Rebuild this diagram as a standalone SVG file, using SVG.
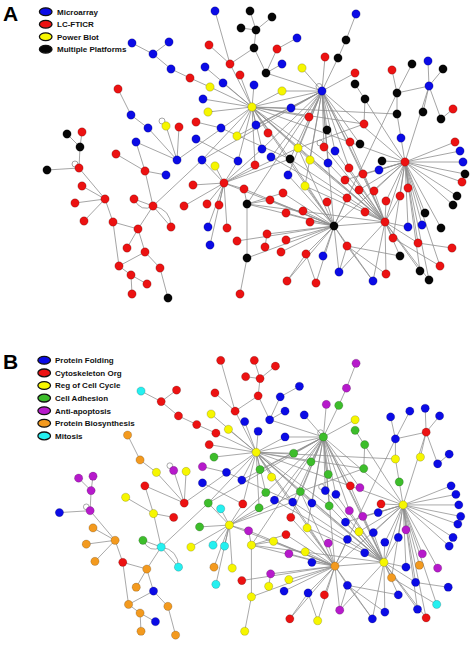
<svg xmlns="http://www.w3.org/2000/svg" xmlns:xlink="http://www.w3.org/1999/xlink" width="474" height="645" viewBox="0 0 474 645">
<style>
.b{fill:#0b0be6}.r{fill:#ec1212}.y{fill:#f6f600}.k{fill:#060606}.g{fill:#3dbd2b}.m{fill:#b61acb}.o{fill:#f39a1f}.c{fill:#25f0f0}
.nodes circle{stroke:#000;stroke-opacity:.3;stroke-width:.6}
.lg ellipse{stroke:#111;stroke-width:1.3}
.lg text{font-family:"Liberation Sans",Arial,sans-serif;font-weight:bold;font-size:8px;fill:#111}
.pl{font-family:"Liberation Sans",Arial,sans-serif;font-weight:bold;font-size:21px;fill:#000}
</style>
<rect width="474" height="645" fill="#fff"/>
<g id="connectors-A">
<g id="net" stroke="#8e8e8e" stroke-width="0.8" fill="none">
<path d="M132 43L153 54"/><path d="M169 42L153 54"/><path d="M153 54L171 69"/><path d="M171 69L190 78"/><path d="M190 78L210 87"/><path d="M210 87L252 107"/>
<path d="M230 64L252 107"/><path d="M205 67L252 107"/><path d="M223 83L252 107"/><path d="M240 75L252 107"/><path d="M203 99L252 107"/><path d="M208 112L252 107"/><path d="M254 85L252 107"/><path d="M256 125L252 107"/><path d="M291 108L252 107"/><path d="M282 91L252 107"/><path d="M237 136L252 107"/><path d="M252 107L322 91"/><path d="M252 107L309 117"/><path d="M252 107L405 162"/><path d="M252 107L397 114"/><path d="M252 107L268 133"/><path d="M252 107L262 149"/><path d="M252 107L290 159"/><path d="M252 107L298 148"/><path d="M252 107L334 226"/><path d="M252 107L385 222"/><path d="M252 107L238 161"/><path d="M252 107L202 160"/><path d="M252 107L255 165"/><path d="M252 107L328 163"/><path d="M252 107L310 160"/><path d="M252 107L364 124"/><path d="M252 107L177 160"/>
<path d="M215 11L230 64"/><path d="M209 45L230 64"/><path d="M230 64L254 48"/>
<path d="M250 11L256 30"/><path d="M272 17L256 30"/><path d="M241 28L256 30"/><path d="M256 30L254 48"/><path d="M254 48L266 73"/><path d="M277 49L297 38"/><path d="M277 49L266 73"/><path d="M282 64L266 73"/><path d="M266 73L322 91"/>
<path d="M302 68L322 91"/><path d="M325 57L322 91"/><path d="M338 58L322 91"/><path d="M355 73L322 91"/><path d="M309 117L322 91"/><path d="M291 108L322 91"/><path d="M282 91L322 91"/><path d="M327 130L322 91"/><path d="M324 147L322 91"/><path d="M335 151L322 91"/><path d="M310 160L322 91"/><path d="M328 163L322 91"/><path d="M298 148L322 91"/><path d="M350 142L322 91"/><path d="M349 168L322 91"/><path d="M363 174L322 91"/><path d="M290 159L322 91"/><path d="M334 226L322 91"/><path d="M305 186L322 91"/><path d="M385 222L322 91"/><path d="M288 175L322 91"/><path d="M271 157L322 91"/><path d="M262 149L322 91"/><path d="M202 160L322 91"/><path d="M237 136L322 91"/><path d="M256 125L322 91"/><path d="M360 144L322 91"/><path d="M247 204L322 91"/>
<path d="M338 58L346 40"/><path d="M346 40L356 14"/><path d="M355 84L405 162"/><path d="M365 99L364 124"/><path d="M298 148L364 124"/>
<path d="M392 70L397 93"/><path d="M412 64L397 93"/><path d="M428 61L429 86"/><path d="M443 69L429 86"/><path d="M397 93L429 86"/><path d="M429 86L423 112"/><path d="M429 86L441 119"/><path d="M397 93L397 114"/><path d="M441 119L453 109"/><path d="M397 114L401 138"/><path d="M401 138L405 162"/><path d="M429 86L405 162"/><path d="M397 93L334 226"/>
<path d="M455 142L405 162"/><path d="M460 151L405 162"/><path d="M463 162L405 162"/><path d="M465 174L405 162"/><path d="M462 182L405 162"/><path d="M457 196L405 162"/><path d="M453 205L405 162"/><path d="M408 188L405 162"/><path d="M400 196L405 162"/><path d="M385 222L405 162"/><path d="M386 201L405 162"/><path d="M374 191L405 162"/><path d="M359 190L405 162"/><path d="M441 228L405 162"/><path d="M425 213L405 162"/><path d="M418 243L405 162"/><path d="M393 238L405 162"/><path d="M420 271L405 162"/><path d="M429 280L405 162"/><path d="M379 170L405 162"/><path d="M382 161L405 162"/><path d="M408 227L405 162"/><path d="M422 225L405 162"/><path d="M322 91L405 162"/><path d="M363 174L405 162"/><path d="M345 180L405 162"/><path d="M334 226L405 162"/><path d="M440 266L405 162"/>
<path d="M345 180L385 222"/><path d="M359 190L385 222"/><path d="M374 191L385 222"/><path d="M386 201L385 222"/><path d="M400 196L385 222"/><path d="M365 212L385 222"/><path d="M349 168L385 222"/><path d="M363 174L385 222"/><path d="M328 163L385 222"/><path d="M335 151L385 222"/><path d="M310 160L385 222"/><path d="M298 148L385 222"/><path d="M290 159L385 222"/><path d="M393 238L385 222"/><path d="M418 243L385 222"/><path d="M386 274L385 222"/><path d="M420 271L385 222"/><path d="M429 280L385 222"/><path d="M408 227L385 222"/><path d="M400 256L385 222"/><path d="M373 281L385 222"/><path d="M339 272L385 222"/><path d="M334 226L385 222"/><path d="M350 142L385 222"/><path d="M324 147L385 222"/><path d="M305 186L385 222"/><path d="M247 204L385 222"/><path d="M271 157L385 222"/>
<path d="M270 200L334 226"/><path d="M283 193L334 226"/><path d="M286 213L334 226"/><path d="M303 211L334 226"/><path d="M310 222L334 226"/><path d="M327 202L334 226"/><path d="M347 198L334 226"/><path d="M237 241L334 226"/><path d="M267 234L334 226"/><path d="M286 240L334 226"/><path d="M281 252L334 226"/><path d="M306 254L334 226"/><path d="M323 256L334 226"/><path d="M347 246L334 226"/><path d="M339 272L334 226"/><path d="M287 281L334 226"/><path d="M316 283L334 226"/><path d="M224 183L334 226"/><path d="M244 189L334 226"/><path d="M305 186L334 226"/><path d="M288 175L334 226"/><path d="M247 204L334 226"/><path d="M298 148L334 226"/><path d="M290 159L334 226"/><path d="M373 281L334 226"/><path d="M247 258L334 226"/>
<path d="M193 185L224 183"/><path d="M184 206L224 183"/><path d="M207 204L224 183"/><path d="M219 205L224 183"/><path d="M208 227L224 183"/><path d="M227 228L224 183"/><path d="M215 166L224 183"/><path d="M238 161L224 183"/><path d="M244 189L224 183"/><path d="M255 165L224 183"/><path d="M202 160L224 183"/><path d="M290 159L224 183"/><path d="M262 149L224 183"/><path d="M298 148L224 183"/><path d="M210 245L224 183"/>
<path d="M134 199L153 206"/><path d="M134 199Q141 213 153 206"/><path d="M171 227L153 206"/><path d="M153 206Q171 209 171 227"/><path d="M138 229L153 206"/><path d="M145 171L153 206"/><path d="M202 160L153 206"/>
<path d="M148 128L177 160"/><path d="M166 126L177 160"/><path d="M179 127L177 160"/><path d="M136 142L177 160"/><path d="M118 89L131 115"/><path d="M131 115L148 128"/><path d="M116 154L145 171"/><path d="M136 142L145 171"/><path d="M166 175L145 171"/><path d="M196 139L238 161"/><path d="M196 122L221 128"/><path d="M221 128L290 159"/>
<path d="M47 170L79 168"/><path d="M79 168L80 147"/><path d="M80 147L67 134"/><path d="M80 147L82 132"/><path d="M79 168L105 199"/><path d="M82 186L105 199"/><path d="M75 203L105 199"/><path d="M84 221L105 199"/><path d="M105 199L113 222"/><path d="M113 222L138 229"/><path d="M113 222L119 266"/><path d="M138 229L127 248"/><path d="M138 229L145 252"/><path d="M145 252L119 266"/><path d="M145 252L160 268"/><path d="M160 268L168 298"/><path d="M119 266L131 275"/><path d="M131 275L147 284"/><path d="M131 275L132 294"/>
<path d="M247 204L247 258"/><path d="M247 258L240 294"/><path d="M247 204L244 189"/><path d="M247 204L270 200"/><path d="M247 204L283 193"/><path d="M265 247L267 234"/><path d="M287 281L306 254"/><path d="M316 283L306 254"/><path d="M339 272L347 246"/><path d="M347 246L386 274"/><path d="M347 246L400 256"/><path d="M347 246L373 281"/><path d="M440 266L393 238"/><path d="M452 248L418 243"/>
<circle cx="162" cy="121" r="3"/><circle cx="75" cy="164" r="3"/><circle cx="319" cy="86.5" r="3"/><circle cx="320" cy="143" r="3"/>
</g>
</g>
<g id="connectors-B" transform="matrix(0.96 0 0 0.957 14.3 349.9)"><use href="#net" xlink:href="#net"/></g>
<g id="nodes-A" class="nodes">
<g id="a1" class="b"><circle cx="215" cy="11" r="4.2"/></g>
<g id="a2" class="b"><circle cx="132" cy="43" r="4.2"/></g>
<g id="a3" class="b"><circle cx="169" cy="42" r="4.2"/></g>
<g id="a4" class="b"><circle cx="153" cy="54" r="4.2"/></g>
<g id="a5" class="b"><circle cx="171" cy="69" r="4.2"/></g>
<g id="a6" class="r"><circle cx="190" cy="78" r="4.2"/></g>
<g id="a7" class="y"><circle cx="210" cy="87" r="4.2"/></g>
<g id="a8" class="b"><circle cx="203" cy="99" r="4.2"/></g>
<g id="a9" class="y"><circle cx="208" cy="112" r="4.2"/></g>
<g id="a10" class="r"><circle cx="196" cy="122" r="4.2"/></g>
<g id="a11" class="b"><circle cx="221" cy="128" r="4.2"/></g>
<g id="a12" class="y"><circle cx="237" cy="136" r="4.2"/></g>
<g id="a13" class="r"><circle cx="209" cy="45" r="4.2"/></g>
<g id="a14" class="r"><circle cx="230" cy="64" r="4.2"/></g>
<g id="a15" class="b"><circle cx="205" cy="67" r="4.2"/></g>
<g id="a16" class="b"><circle cx="223" cy="83" r="4.2"/></g>
<g id="a17" class="r"><circle cx="240" cy="75" r="4.2"/></g>
<g id="a18" class="r"><circle cx="118" cy="89" r="4.2"/></g>
<g id="a19" class="b"><circle cx="131" cy="115" r="4.2"/></g>
<g id="a20" class="b"><circle cx="148" cy="128" r="4.2"/></g>
<g id="a21" class="y"><circle cx="166" cy="126" r="4.2"/></g>
<g id="a22" class="r"><circle cx="179" cy="127" r="4.2"/></g>
<g id="a23" class="b"><circle cx="136" cy="142" r="4.2"/></g>
<g id="a24" class="b"><circle cx="196" cy="139" r="4.2"/></g>
<g id="a25" class="r"><circle cx="116" cy="154" r="4.2"/></g>
<g id="a26" class="b"><circle cx="177" cy="160" r="4.2"/></g>
<g id="a27" class="b"><circle cx="202" cy="160" r="4.2"/></g>
<g id="a28" class="k"><circle cx="67" cy="134" r="4.2"/></g>
<g id="a29" class="r"><circle cx="82" cy="132" r="4.2"/></g>
<g id="a30" class="k"><circle cx="80" cy="147" r="4.2"/></g>
<g id="a31" class="k"><circle cx="266" cy="73" r="4.2"/></g>
<g id="a32" class="b"><circle cx="282" cy="64" r="4.2"/></g>
<g id="a33" class="b"><circle cx="254" cy="85" r="4.2"/></g>
<g id="a34" class="y"><circle cx="282" cy="91" r="4.2"/></g>
<g id="a35" class="y"><circle cx="252" cy="107" r="4.2"/></g>
<g id="a36" class="b"><circle cx="291" cy="108" r="4.2"/></g>
<g id="a37" class="b"><circle cx="256" cy="125" r="4.2"/></g>
<g id="a38" class="r"><circle cx="268" cy="133" r="4.2"/></g>
<g id="a39" class="b"><circle cx="262" cy="149" r="4.2"/></g>
<g id="a40" class="y"><circle cx="298" cy="148" r="4.2"/></g>
<g id="a41" class="b"><circle cx="271" cy="157" r="4.2"/></g>
<g id="a42" class="k"><circle cx="290" cy="159" r="4.2"/></g>
<g id="a43" class="b"><circle cx="238" cy="161" r="4.2"/></g>
<g id="a44" class="y"><circle cx="215" cy="166" r="4.2"/></g>
<g id="a45" class="r"><circle cx="255" cy="165" r="4.2"/></g>
<g id="a46" class="b"><circle cx="288" cy="175" r="4.2"/></g>
<g id="a47" class="b"><circle cx="166" cy="175" r="4.2"/></g>
<g id="a48" class="r"><circle cx="145" cy="171" r="4.2"/></g>
<g id="a49" class="k"><circle cx="250" cy="11" r="4.2"/></g>
<g id="a50" class="k"><circle cx="272" cy="17" r="4.2"/></g>
<g id="a51" class="k"><circle cx="241" cy="28" r="4.2"/></g>
<g id="a52" class="k"><circle cx="256" cy="30" r="4.2"/></g>
<g id="a53" class="k"><circle cx="254" cy="48" r="4.2"/></g>
<g id="a54" class="b"><circle cx="297" cy="38" r="4.2"/></g>
<g id="a55" class="r"><circle cx="277" cy="49" r="4.2"/></g>
<g id="a56" class="y"><circle cx="302" cy="68" r="4.2"/></g>
<g id="a57" class="r"><circle cx="325" cy="57" r="4.2"/></g>
<g id="a58" class="k"><circle cx="338" cy="58" r="4.2"/></g>
<g id="a59" class="k"><circle cx="346" cy="40" r="4.2"/></g>
<g id="a60" class="b"><circle cx="356" cy="14" r="4.2"/></g>
<g id="a61" class="r"><circle cx="355" cy="73" r="4.2"/></g>
<g id="a62" class="k"><circle cx="355" cy="84" r="4.2"/></g>
<g id="a63" class="b"><circle cx="322" cy="91" r="4.2"/></g>
<g id="a64" class="r"><circle cx="309" cy="117" r="4.2"/></g>
<g id="a65" class="k"><circle cx="365" cy="99" r="4.2"/></g>
<g id="a66" class="k"><circle cx="327" cy="130" r="4.2"/></g>
<g id="a67" class="r"><circle cx="364" cy="124" r="4.2"/></g>
<g id="a68" class="r"><circle cx="324" cy="147" r="4.2"/></g>
<g id="a69" class="r"><circle cx="350" cy="142" r="4.2"/></g>
<g id="a70" class="k"><circle cx="360" cy="144" r="4.2"/></g>
<g id="a71" class="b"><circle cx="335" cy="151" r="4.2"/></g>
<g id="a72" class="y"><circle cx="310" cy="160" r="4.2"/></g>
<g id="a73" class="r"><circle cx="392" cy="70" r="4.2"/></g>
<g id="a74" class="k"><circle cx="412" cy="64" r="4.2"/></g>
<g id="a75" class="b"><circle cx="428" cy="61" r="4.2"/></g>
<g id="a76" class="k"><circle cx="443" cy="69" r="4.2"/></g>
<g id="a77" class="b"><circle cx="429" cy="86" r="4.2"/></g>
<g id="a78" class="k"><circle cx="397" cy="93" r="4.2"/></g>
<g id="a79" class="k"><circle cx="397" cy="114" r="4.2"/></g>
<g id="a80" class="k"><circle cx="423" cy="112" r="4.2"/></g>
<g id="a81" class="k"><circle cx="441" cy="119" r="4.2"/></g>
<g id="a82" class="r"><circle cx="453" cy="109" r="4.2"/></g>
<g id="a83" class="b"><circle cx="401" cy="138" r="4.2"/></g>
<g id="a84" class="r"><circle cx="405" cy="162" r="4.2"/></g>
<g id="a85" class="r"><circle cx="455" cy="142" r="4.2"/></g>
<g id="a86" class="b"><circle cx="460" cy="151" r="4.2"/></g>
<g id="a87" class="b"><circle cx="463" cy="162" r="4.2"/></g>
<g id="a88" class="k"><circle cx="465" cy="174" r="4.2"/></g>
<g id="a89" class="r"><circle cx="462" cy="182" r="4.2"/></g>
<g id="a90" class="k"><circle cx="457" cy="196" r="4.2"/></g>
<g id="a91" class="k"><circle cx="453" cy="205" r="4.2"/></g>
<g id="a92" class="b"><circle cx="328" cy="163" r="4.2"/></g>
<g id="a93" class="r"><circle cx="349" cy="168" r="4.2"/></g>
<g id="a94" class="r"><circle cx="363" cy="174" r="4.2"/></g>
<g id="a95" class="k"><circle cx="382" cy="161" r="4.2"/></g>
<g id="a96" class="b"><circle cx="379" cy="170" r="4.2"/></g>
<g id="a97" class="y"><circle cx="305" cy="186" r="4.2"/></g>
<g id="a98" class="r"><circle cx="345" cy="180" r="4.2"/></g>
<g id="a99" class="r"><circle cx="359" cy="190" r="4.2"/></g>
<g id="a100" class="r"><circle cx="374" cy="191" r="4.2"/></g>
<g id="a101" class="r"><circle cx="408" cy="188" r="4.2"/></g>
<g id="a102" class="r"><circle cx="400" cy="196" r="4.2"/></g>
<g id="a103" class="r"><circle cx="386" cy="201" r="4.2"/></g>
<g id="a104" class="r"><circle cx="244" cy="189" r="4.2"/></g>
<g id="a105" class="r"><circle cx="270" cy="200" r="4.2"/></g>
<g id="a106" class="r"><circle cx="283" cy="193" r="4.2"/></g>
<g id="a107" class="r"><circle cx="327" cy="202" r="4.2"/></g>
<g id="a108" class="k"><circle cx="247" cy="204" r="4.2"/></g>
<g id="a109" class="r"><circle cx="286" cy="213" r="4.2"/></g>
<g id="a110" class="r"><circle cx="303" cy="211" r="4.2"/></g>
<g id="a111" class="r"><circle cx="365" cy="212" r="4.2"/></g>
<g id="a112" class="r"><circle cx="310" cy="222" r="4.2"/></g>
<g id="a113" class="k"><circle cx="334" cy="226" r="4.2"/></g>
<g id="a114" class="r"><circle cx="385" cy="222" r="4.2"/></g>
<g id="a115" class="k"><circle cx="425" cy="213" r="4.2"/></g>
<g id="a116" class="b"><circle cx="408" cy="227" r="4.2"/></g>
<g id="a117" class="b"><circle cx="422" cy="225" r="4.2"/></g>
<g id="a118" class="k"><circle cx="441" cy="228" r="4.2"/></g>
<g id="a119" class="r"><circle cx="393" cy="238" r="4.2"/></g>
<g id="a120" class="r"><circle cx="418" cy="243" r="4.2"/></g>
<g id="a121" class="r"><circle cx="452" cy="248" r="4.2"/></g>
<g id="a122" class="r"><circle cx="267" cy="234" r="4.2"/></g>
<g id="a123" class="r"><circle cx="237" cy="241" r="4.2"/></g>
<g id="a124" class="r"><circle cx="265" cy="247" r="4.2"/></g>
<g id="a125" class="r"><circle cx="286" cy="240" r="4.2"/></g>
<g id="a126" class="r"><circle cx="281" cy="252" r="4.2"/></g>
<g id="a127" class="r"><circle cx="347" cy="246" r="4.2"/></g>
<g id="a128" class="r"><circle cx="306" cy="254" r="4.2"/></g>
<g id="a129" class="b"><circle cx="323" cy="256" r="4.2"/></g>
<g id="a130" class="k"><circle cx="400" cy="256" r="4.2"/></g>
<g id="a131" class="r"><circle cx="440" cy="266" r="4.2"/></g>
<g id="a132" class="k"><circle cx="247" cy="258" r="4.2"/></g>
<g id="a133" class="b"><circle cx="339" cy="272" r="4.2"/></g>
<g id="a134" class="r"><circle cx="386" cy="274" r="4.2"/></g>
<g id="a135" class="k"><circle cx="420" cy="271" r="4.2"/></g>
<g id="a136" class="k"><circle cx="429" cy="280" r="4.2"/></g>
<g id="a137" class="b"><circle cx="373" cy="281" r="4.2"/></g>
<g id="a138" class="r"><circle cx="287" cy="281" r="4.2"/></g>
<g id="a139" class="r"><circle cx="316" cy="283" r="4.2"/></g>
<g id="a140" class="r"><circle cx="240" cy="294" r="4.2"/></g>
<g id="a141" class="k"><circle cx="47" cy="170" r="4.2"/></g>
<g id="a142" class="r"><circle cx="79" cy="168" r="4.2"/></g>
<g id="a143" class="r"><circle cx="82" cy="186" r="4.2"/></g>
<g id="a144" class="r"><circle cx="75" cy="203" r="4.2"/></g>
<g id="a145" class="r"><circle cx="105" cy="199" r="4.2"/></g>
<g id="a146" class="r"><circle cx="84" cy="221" r="4.2"/></g>
<g id="a147" class="r"><circle cx="113" cy="222" r="4.2"/></g>
<g id="a148" class="r"><circle cx="138" cy="229" r="4.2"/></g>
<g id="a149" class="r"><circle cx="127" cy="248" r="4.2"/></g>
<g id="a150" class="r"><circle cx="145" cy="252" r="4.2"/></g>
<g id="a151" class="r"><circle cx="119" cy="266" r="4.2"/></g>
<g id="a152" class="r"><circle cx="131" cy="275" r="4.2"/></g>
<g id="a153" class="r"><circle cx="160" cy="268" r="4.2"/></g>
<g id="a154" class="r"><circle cx="147" cy="284" r="4.2"/></g>
<g id="a155" class="r"><circle cx="132" cy="294" r="4.2"/></g>
<g id="a156" class="k"><circle cx="168" cy="298" r="4.2"/></g>
<g id="a157" class="r"><circle cx="134" cy="199" r="4.2"/></g>
<g id="a158" class="r"><circle cx="153" cy="206" r="4.2"/></g>
<g id="a159" class="r"><circle cx="171" cy="227" r="4.2"/></g>
<g id="a160" class="r"><circle cx="184" cy="206" r="4.2"/></g>
<g id="a161" class="r"><circle cx="207" cy="204" r="4.2"/></g>
<g id="a162" class="r"><circle cx="219" cy="205" r="4.2"/></g>
<g id="a163" class="b"><circle cx="208" cy="227" r="4.2"/></g>
<g id="a164" class="r"><circle cx="227" cy="228" r="4.2"/></g>
<g id="a165" class="b"><circle cx="210" cy="245" r="4.2"/></g>
<g id="a166" class="r"><circle cx="224" cy="183" r="4.2"/></g>
<g id="a167" class="r"><circle cx="193" cy="185" r="4.2"/></g>
<g id="a168" class="r"><circle cx="347" cy="198" r="4.2"/></g>
</g>
<g id="nodes-B" class="nodes" transform="matrix(0.96 0 0 0.957 14.3 349.9)">
<g id="b1" class="r"><circle cx="215" cy="11" r="4.3"/></g>
<g id="b2" class="c"><circle cx="132" cy="43" r="4.3"/></g>
<g id="b3" class="r"><circle cx="169" cy="42" r="4.3"/></g>
<g id="b4" class="r"><circle cx="153" cy="54" r="4.3"/></g>
<g id="b5" class="r"><circle cx="171" cy="69" r="4.3"/></g>
<g id="b6" class="r"><circle cx="190" cy="78" r="4.3"/></g>
<g id="b7" class="r"><circle cx="210" cy="87" r="4.3"/></g>
<g id="b8" class="r"><circle cx="203" cy="99" r="4.3"/></g>
<g id="b9" class="g"><circle cx="208" cy="112" r="4.3"/></g>
<g id="b10" class="m"><circle cx="196" cy="122" r="4.3"/></g>
<g id="b11" class="b"><circle cx="221" cy="128" r="4.3"/></g>
<g id="b12" class="b"><circle cx="237" cy="136" r="4.3"/></g>
<g id="b13" class="r"><circle cx="209" cy="45" r="4.3"/></g>
<g id="b14" class="r"><circle cx="230" cy="64" r="4.3"/></g>
<g id="b15" class="y"><circle cx="205" cy="67" r="4.3"/></g>
<g id="b16" class="y"><circle cx="223" cy="83" r="4.3"/></g>
<g id="b17" class="b"><circle cx="240" cy="75" r="4.3"/></g>
<g id="b18" class="o"><circle cx="118" cy="89" r="4.3"/></g>
<g id="b19" class="o"><circle cx="131" cy="115" r="4.3"/></g>
<g id="b20" class="y"><circle cx="148" cy="128" r="4.3"/></g>
<g id="b21" class="m"><circle cx="166" cy="126" r="4.3"/></g>
<g id="b22" class="y"><circle cx="179" cy="127" r="4.3"/></g>
<g id="b23" class="r"><circle cx="136" cy="142" r="4.3"/></g>
<g id="b24" class="b"><circle cx="196" cy="139" r="4.3"/></g>
<g id="b25" class="y"><circle cx="116" cy="154" r="4.3"/></g>
<g id="b26" class="r"><circle cx="177" cy="160" r="4.3"/></g>
<g id="b27" class="g"><circle cx="202" cy="160" r="4.3"/></g>
<g id="b28" class="m"><circle cx="67" cy="134" r="4.3"/></g>
<g id="b29" class="m"><circle cx="82" cy="132" r="4.3"/></g>
<g id="b30" class="m"><circle cx="80" cy="147" r="4.3"/></g>
<g id="b31" class="b"><circle cx="266" cy="73" r="4.3"/></g>
<g id="b32" class="b"><circle cx="282" cy="64" r="4.3"/></g>
<g id="b33" class="b"><circle cx="254" cy="85" r="4.3"/></g>
<g id="b34" class="b"><circle cx="282" cy="91" r="4.3"/></g>
<g id="b35" class="y"><circle cx="252" cy="107" r="4.3"/></g>
<g id="b36" class="g"><circle cx="291" cy="108" r="4.3"/></g>
<g id="b37" class="g"><circle cx="256" cy="125" r="4.3"/></g>
<g id="b38" class="y"><circle cx="268" cy="133" r="4.3"/></g>
<g id="b39" class="g"><circle cx="262" cy="149" r="4.3"/></g>
<g id="b40" class="g"><circle cx="298" cy="148" r="4.3"/></g>
<g id="b41" class="b"><circle cx="271" cy="157" r="4.3"/></g>
<g id="b42" class="b"><circle cx="290" cy="159" r="4.3"/></g>
<g id="b43" class="r"><circle cx="238" cy="161" r="4.3"/></g>
<g id="b44" class="c"><circle cx="215" cy="166" r="4.3"/></g>
<g id="b45" class="g"><circle cx="255" cy="165" r="4.3"/></g>
<g id="b46" class="r"><circle cx="288" cy="175" r="4.3"/></g>
<g id="b47" class="r"><circle cx="166" cy="175" r="4.3"/></g>
<g id="b48" class="y"><circle cx="145" cy="171" r="4.3"/></g>
<g id="b49" class="r"><circle cx="250" cy="11" r="4.3"/></g>
<g id="b50" class="r"><circle cx="272" cy="17" r="4.3"/></g>
<g id="b51" class="r"><circle cx="241" cy="28" r="4.3"/></g>
<g id="b52" class="r"><circle cx="256" cy="30" r="4.3"/></g>
<g id="b53" class="r"><circle cx="254" cy="48" r="4.3"/></g>
<g id="b54" class="b"><circle cx="297" cy="38" r="4.3"/></g>
<g id="b55" class="b"><circle cx="277" cy="49" r="4.3"/></g>
<g id="b56" class="b"><circle cx="302" cy="68" r="4.3"/></g>
<g id="b57" class="m"><circle cx="325" cy="57" r="4.3"/></g>
<g id="b58" class="g"><circle cx="338" cy="58" r="4.3"/></g>
<g id="b59" class="m"><circle cx="346" cy="40" r="4.3"/></g>
<g id="b60" class="m"><circle cx="356" cy="14" r="4.3"/></g>
<g id="b61" class="y"><circle cx="355" cy="73" r="4.3"/></g>
<g id="b62" class="g"><circle cx="355" cy="84" r="4.3"/></g>
<g id="b63" class="g"><circle cx="322" cy="91" r="4.3"/></g>
<g id="b64" class="g"><circle cx="309" cy="117" r="4.3"/></g>
<g id="b65" class="g"><circle cx="365" cy="99" r="4.3"/></g>
<g id="b66" class="g"><circle cx="327" cy="130" r="4.3"/></g>
<g id="b67" class="g"><circle cx="364" cy="124" r="4.3"/></g>
<g id="b68" class="b"><circle cx="324" cy="147" r="4.3"/></g>
<g id="b69" class="r"><circle cx="350" cy="142" r="4.3"/></g>
<g id="b70" class="m"><circle cx="360" cy="144" r="4.3"/></g>
<g id="b71" class="b"><circle cx="335" cy="151" r="4.3"/></g>
<g id="b72" class="b"><circle cx="310" cy="160" r="4.3"/></g>
<g id="b73" class="b"><circle cx="392" cy="70" r="4.3"/></g>
<g id="b74" class="b"><circle cx="412" cy="64" r="4.3"/></g>
<g id="b75" class="b"><circle cx="428" cy="61" r="4.3"/></g>
<g id="b76" class="b"><circle cx="443" cy="69" r="4.3"/></g>
<g id="b77" class="r"><circle cx="429" cy="86" r="4.3"/></g>
<g id="b78" class="b"><circle cx="397" cy="93" r="4.3"/></g>
<g id="b79" class="y"><circle cx="397" cy="114" r="4.3"/></g>
<g id="b80" class="y"><circle cx="423" cy="112" r="4.3"/></g>
<g id="b81" class="b"><circle cx="441" cy="119" r="4.3"/></g>
<g id="b82" class="b"><circle cx="453" cy="109" r="4.3"/></g>
<g id="b83" class="g"><circle cx="401" cy="138" r="4.3"/></g>
<g id="b84" class="y"><circle cx="405" cy="162" r="4.3"/></g>
<g id="b85" class="b"><circle cx="455" cy="142" r="4.3"/></g>
<g id="b86" class="b"><circle cx="460" cy="151" r="4.3"/></g>
<g id="b87" class="b"><circle cx="463" cy="162" r="4.3"/></g>
<g id="b88" class="b"><circle cx="465" cy="174" r="4.3"/></g>
<g id="b89" class="b"><circle cx="462" cy="182" r="4.3"/></g>
<g id="b90" class="b"><circle cx="457" cy="196" r="4.3"/></g>
<g id="b91" class="b"><circle cx="453" cy="205" r="4.3"/></g>
<g id="b92" class="g"><circle cx="328" cy="163" r="4.3"/></g>
<g id="b93" class="m"><circle cx="349" cy="168" r="4.3"/></g>
<g id="b94" class="m"><circle cx="363" cy="174" r="4.3"/></g>
<g id="b95" class="r"><circle cx="382" cy="161" r="4.3"/></g>
<g id="b96" class="b"><circle cx="379" cy="170" r="4.3"/></g>
<g id="b97" class="y"><circle cx="305" cy="186" r="4.3"/></g>
<g id="b98" class="b"><circle cx="345" cy="180" r="4.3"/></g>
<g id="b99" class="y"><circle cx="359" cy="190" r="4.3"/></g>
<g id="b100" class="b"><circle cx="374" cy="191" r="4.3"/></g>
<g id="b101" class="m"><circle cx="408" cy="188" r="4.3"/></g>
<g id="b102" class="b"><circle cx="400" cy="196" r="4.3"/></g>
<g id="b103" class="b"><circle cx="386" cy="201" r="4.3"/></g>
<g id="b104" class="m"><circle cx="244" cy="189" r="4.3"/></g>
<g id="b105" class="y"><circle cx="270" cy="200" r="4.3"/></g>
<g id="b106" class="r"><circle cx="283" cy="193" r="4.3"/></g>
<g id="b107" class="m"><circle cx="327" cy="202" r="4.3"/></g>
<g id="b108" class="y"><circle cx="247" cy="204" r="4.3"/></g>
<g id="b109" class="m"><circle cx="286" cy="213" r="4.3"/></g>
<g id="b110" class="y"><circle cx="303" cy="211" r="4.3"/></g>
<g id="b111" class="b"><circle cx="365" cy="212" r="4.3"/></g>
<g id="b112" class="b"><circle cx="310" cy="222" r="4.3"/></g>
<g id="b113" class="o"><circle cx="334" cy="226" r="4.3"/></g>
<g id="b114" class="y"><circle cx="385" cy="222" r="4.3"/></g>
<g id="b115" class="m"><circle cx="425" cy="213" r="4.3"/></g>
<g id="b116" class="b"><circle cx="408" cy="227" r="4.3"/></g>
<g id="b117" class="o"><circle cx="422" cy="225" r="4.3"/></g>
<g id="b118" class="m"><circle cx="441" cy="228" r="4.3"/></g>
<g id="b119" class="o"><circle cx="393" cy="238" r="4.3"/></g>
<g id="b120" class="b"><circle cx="418" cy="243" r="4.3"/></g>
<g id="b121" class="b"><circle cx="452" cy="248" r="4.3"/></g>
<g id="b122" class="m"><circle cx="267" cy="234" r="4.3"/></g>
<g id="b123" class="r"><circle cx="237" cy="241" r="4.3"/></g>
<g id="b124" class="y"><circle cx="265" cy="247" r="4.3"/></g>
<g id="b125" class="y"><circle cx="286" cy="240" r="4.3"/></g>
<g id="b126" class="b"><circle cx="281" cy="252" r="4.3"/></g>
<g id="b127" class="b"><circle cx="347" cy="246" r="4.3"/></g>
<g id="b128" class="b"><circle cx="306" cy="254" r="4.3"/></g>
<g id="b129" class="r"><circle cx="323" cy="256" r="4.3"/></g>
<g id="b130" class="b"><circle cx="400" cy="256" r="4.3"/></g>
<g id="b131" class="c"><circle cx="440" cy="266" r="4.3"/></g>
<g id="b132" class="y"><circle cx="247" cy="258" r="4.3"/></g>
<g id="b133" class="m"><circle cx="339" cy="272" r="4.3"/></g>
<g id="b134" class="b"><circle cx="386" cy="274" r="4.3"/></g>
<g id="b135" class="b"><circle cx="420" cy="271" r="4.3"/></g>
<g id="b136" class="r"><circle cx="429" cy="280" r="4.3"/></g>
<g id="b137" class="b"><circle cx="373" cy="281" r="4.3"/></g>
<g id="b138" class="r"><circle cx="287" cy="281" r="4.3"/></g>
<g id="b139" class="y"><circle cx="316" cy="283" r="4.3"/></g>
<g id="b140" class="y"><circle cx="240" cy="294" r="4.3"/></g>
<g id="b141" class="b"><circle cx="47" cy="170" r="4.3"/></g>
<g id="b142" class="m"><circle cx="79" cy="168" r="4.3"/></g>
<g id="b143" class="o"><circle cx="82" cy="186" r="4.3"/></g>
<g id="b144" class="o"><circle cx="75" cy="203" r="4.3"/></g>
<g id="b145" class="o"><circle cx="105" cy="199" r="4.3"/></g>
<g id="b146" class="o"><circle cx="84" cy="221" r="4.3"/></g>
<g id="b147" class="r"><circle cx="113" cy="222" r="4.3"/></g>
<g id="b148" class="o"><circle cx="138" cy="229" r="4.3"/></g>
<g id="b149" class="o"><circle cx="127" cy="248" r="4.3"/></g>
<g id="b150" class="b"><circle cx="145" cy="252" r="4.3"/></g>
<g id="b151" class="o"><circle cx="119" cy="266" r="4.3"/></g>
<g id="b152" class="o"><circle cx="131" cy="275" r="4.3"/></g>
<g id="b153" class="o"><circle cx="160" cy="268" r="4.3"/></g>
<g id="b154" class="b"><circle cx="147" cy="284" r="4.3"/></g>
<g id="b155" class="o"><circle cx="132" cy="294" r="4.3"/></g>
<g id="b156" class="o"><circle cx="168" cy="298" r="4.3"/></g>
<g id="b157" class="g"><circle cx="134" cy="199" r="4.3"/></g>
<g id="b158" class="c"><circle cx="153" cy="206" r="4.3"/></g>
<g id="b159" class="c"><circle cx="171" cy="227" r="4.3"/></g>
<g id="b160" class="y"><circle cx="184" cy="206" r="4.3"/></g>
<g id="b161" class="c"><circle cx="207" cy="204" r="4.3"/></g>
<g id="b162" class="c"><circle cx="219" cy="205" r="4.3"/></g>
<g id="b163" class="o"><circle cx="208" cy="227" r="4.3"/></g>
<g id="b164" class="y"><circle cx="227" cy="228" r="4.3"/></g>
<g id="b165" class="c"><circle cx="210" cy="245" r="4.3"/></g>
<g id="b166" class="y"><circle cx="224" cy="183" r="4.3"/></g>
<g id="b167" class="g"><circle cx="193" cy="185" r="4.3"/></g>
<g id="b168" class="b"><circle cx="347" cy="198" r="4.3"/></g>
</g>
<g id="panel-labels">
<text class="pl" x="3" y="20.5">A</text>
<text class="pl" x="3" y="368.5">B</text>
</g>
<g id="legend-A" class="lg">
<ellipse class="b" cx="45.7" cy="11.7" rx="6.3" ry="3.9"/><text x="57" y="14.6">Microarray</text>
<ellipse class="r" cx="45.7" cy="24.2" rx="6.3" ry="3.9"/><text x="57" y="27.1">LC-FTICR</text>
<ellipse class="y" cx="45.7" cy="36.7" rx="6.3" ry="3.9"/><text x="57" y="39.6">Power Blot</text>
<ellipse class="k" cx="45.7" cy="49.2" rx="6.3" ry="3.9"/><text x="57" y="52.1">Multiple Platforms</text>
</g>
<g id="legend-B" class="lg">
<ellipse class="b" cx="44.2" cy="360.3" rx="6.3" ry="3.9"/><text x="55" y="363.2">Protein Folding</text>
<ellipse class="r" cx="44.2" cy="372.9" rx="6.3" ry="3.9"/><text x="55" y="375.8">Cytoskeleton Org</text>
<ellipse class="y" cx="44.2" cy="385.5" rx="6.3" ry="3.9"/><text x="55" y="388.4">Reg of Cell Cycle</text>
<ellipse class="g" cx="44.2" cy="398.1" rx="6.3" ry="3.9"/><text x="55" y="401">Cell Adhesion</text>
<ellipse class="m" cx="44.2" cy="410.7" rx="6.3" ry="3.9"/><text x="55" y="413.6">Anti-apoptosis</text>
<ellipse class="o" cx="44.2" cy="423.3" rx="6.3" ry="3.9"/><text x="55" y="426.2">Protein Biosynthesis</text>
<ellipse class="c" cx="44.2" cy="435.9" rx="6.3" ry="3.9"/><text x="55" y="438.8">Mitosis</text>
</g>
</svg>
